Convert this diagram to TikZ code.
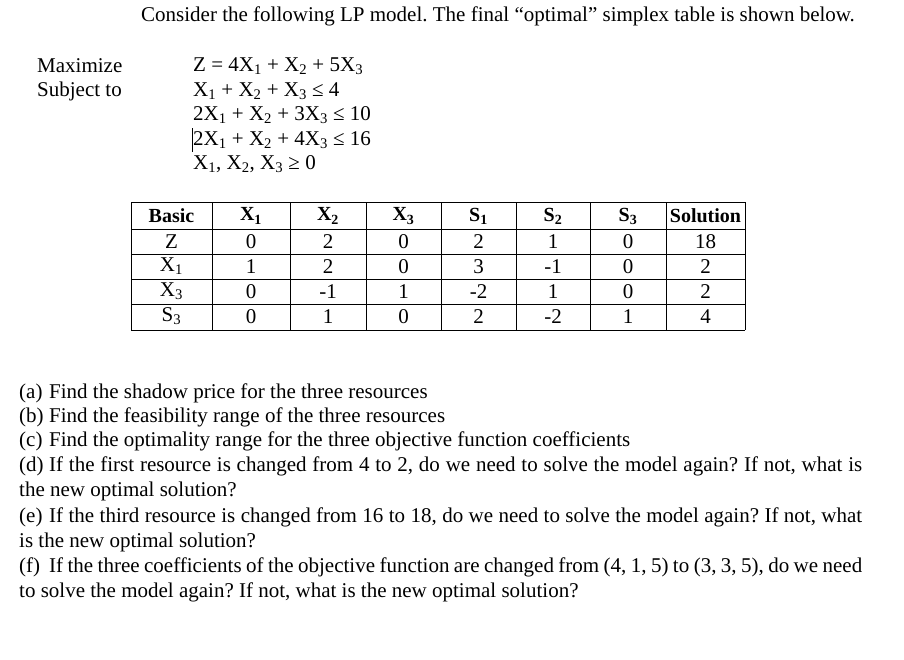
\documentclass[tikz,border=0pt]{standalone}
\usepackage{fontspec}
\setmainfont{Liberation Serif}
\newcommand{\subs}[1]{\textsubscript{#1}}
\newcommand{\qlab}[1]{\noindent\hangindent=30pt\hangafter=1\makebox[30pt][l]{(#1)}}
\frenchspacing
\begin{document}
\begin{tikzpicture}[x=1pt,y=-1pt,
  txt/.style={anchor=west,inner sep=0pt,font=\fontsize{21}{25}\selectfont},
  cell/.style={inner sep=0pt,font=\fontsize{21}{25}\selectfont},
  hd/.style={inner sep=0pt,font=\fontsize{20}{25}\selectfont\bfseries},
  q/.style={anchor=north west,inner sep=0pt,text width=843pt,align=justify,font=\fontsize{21}{25}\selectfont}]
\useasboundingbox[fill=white] (0,0) rectangle (904,659);
\node[txt] (title) at (141,16) {Consider the following LP model. The final “optimal” simplex table is shown below.};
\node[txt] (max) at (37,66) {Maximize};
\node[txt] (st) at (37,91) {Subject to};
\node[txt] (z) at (193,66) {Z = 4X\subs1 + X\subs2 + 5X\subs3};
\node[txt] (c1) at (193,91) {X\subs1 + X\subs2 + X\subs3 ≤ 4};
\node[txt] (c2) at (193,115) {2X\subs1 + X\subs2 + 3X\subs3 ≤ 10};
\node[txt] (c3) at (193,140) {2X\subs1 + X\subs2 + 4X\subs3 ≤ 16};
\node[txt] (c4) at (193,164) {X\subs1, X\subs2, X\subs3 ≥ 0};
\draw[line width=0.8pt] (192,128) -- (192,152);
% table
\def\xs{131,212,290,366,441,516,590,666,745}
\foreach \x in \xs {\draw[line width=0.8pt] (\x,202) -- (\x,330);}
\foreach \y in {202,229,254,279,304,330} {\draw[line width=0.8pt] (131,\y) -- (745,\y);}
\foreach \t [count=\i] in {Basic,X\subs1,X\subs2,X\subs3,S\subs1,S\subs2,S\subs3,Solution} {
  \pgfmathsetmacro\cx{{131,212,290,366,441,516,590,666,745}[\i-1]/2+{131,212,290,366,441,516,590,666,745}[\i]/2}
  \node[hd] (h\i) at (\cx,216) {\t};}
\foreach \r/\row in {1/{Z,0,2,0,2,1,0,18},2/{X\subs1,1,2,0,3,-1,0,2},3/{X\subs3,0,-1,1,-2,1,0,2},4/{S\subs3,0,1,0,2,-2,1,4}} {
  \foreach \t [count=\i] in \row {
    \pgfmathsetmacro\cx{{131,212,290,366,441,516,590,666,745}[\i-1]/2+{131,212,290,366,441,516,590,666,745}[\i]/2}
    \pgfmathsetmacro\cy{229+25*\r-12.5}
    \node[cell] (r\r c\i) at (\cx,\cy) {\t};}}
% questions
\node[q] (qa) at (19,384) {\qlab{a}Find the shadow price for the three resources};
\node[q] (qb) at (19,408) {\qlab{b}Find the feasibility range of the three resources};
\node[q] (qc) at (19,432) {\qlab{c}Find the optimality range for the three objective function coefficients};
\node[q] (qd) at (19,457) {\qlab{d}If the first resource is changed from 4 to 2, do we need to solve the model again? If not, what is the new optimal solution?};
\node[q] (qe) at (19,508) {\qlab{e}If the third resource is changed from 16 to 18, do we need to solve the model again? If not, what is the new optimal solution?};
\node[q] (qf) at (19,558) {\qlab{f}If the three coefficients of the objective function are changed from (4, 1, 5) to (3, 3, 5), do we need to solve the model again? If not, what is the new optimal solution?};
\end{tikzpicture}
\end{document}
